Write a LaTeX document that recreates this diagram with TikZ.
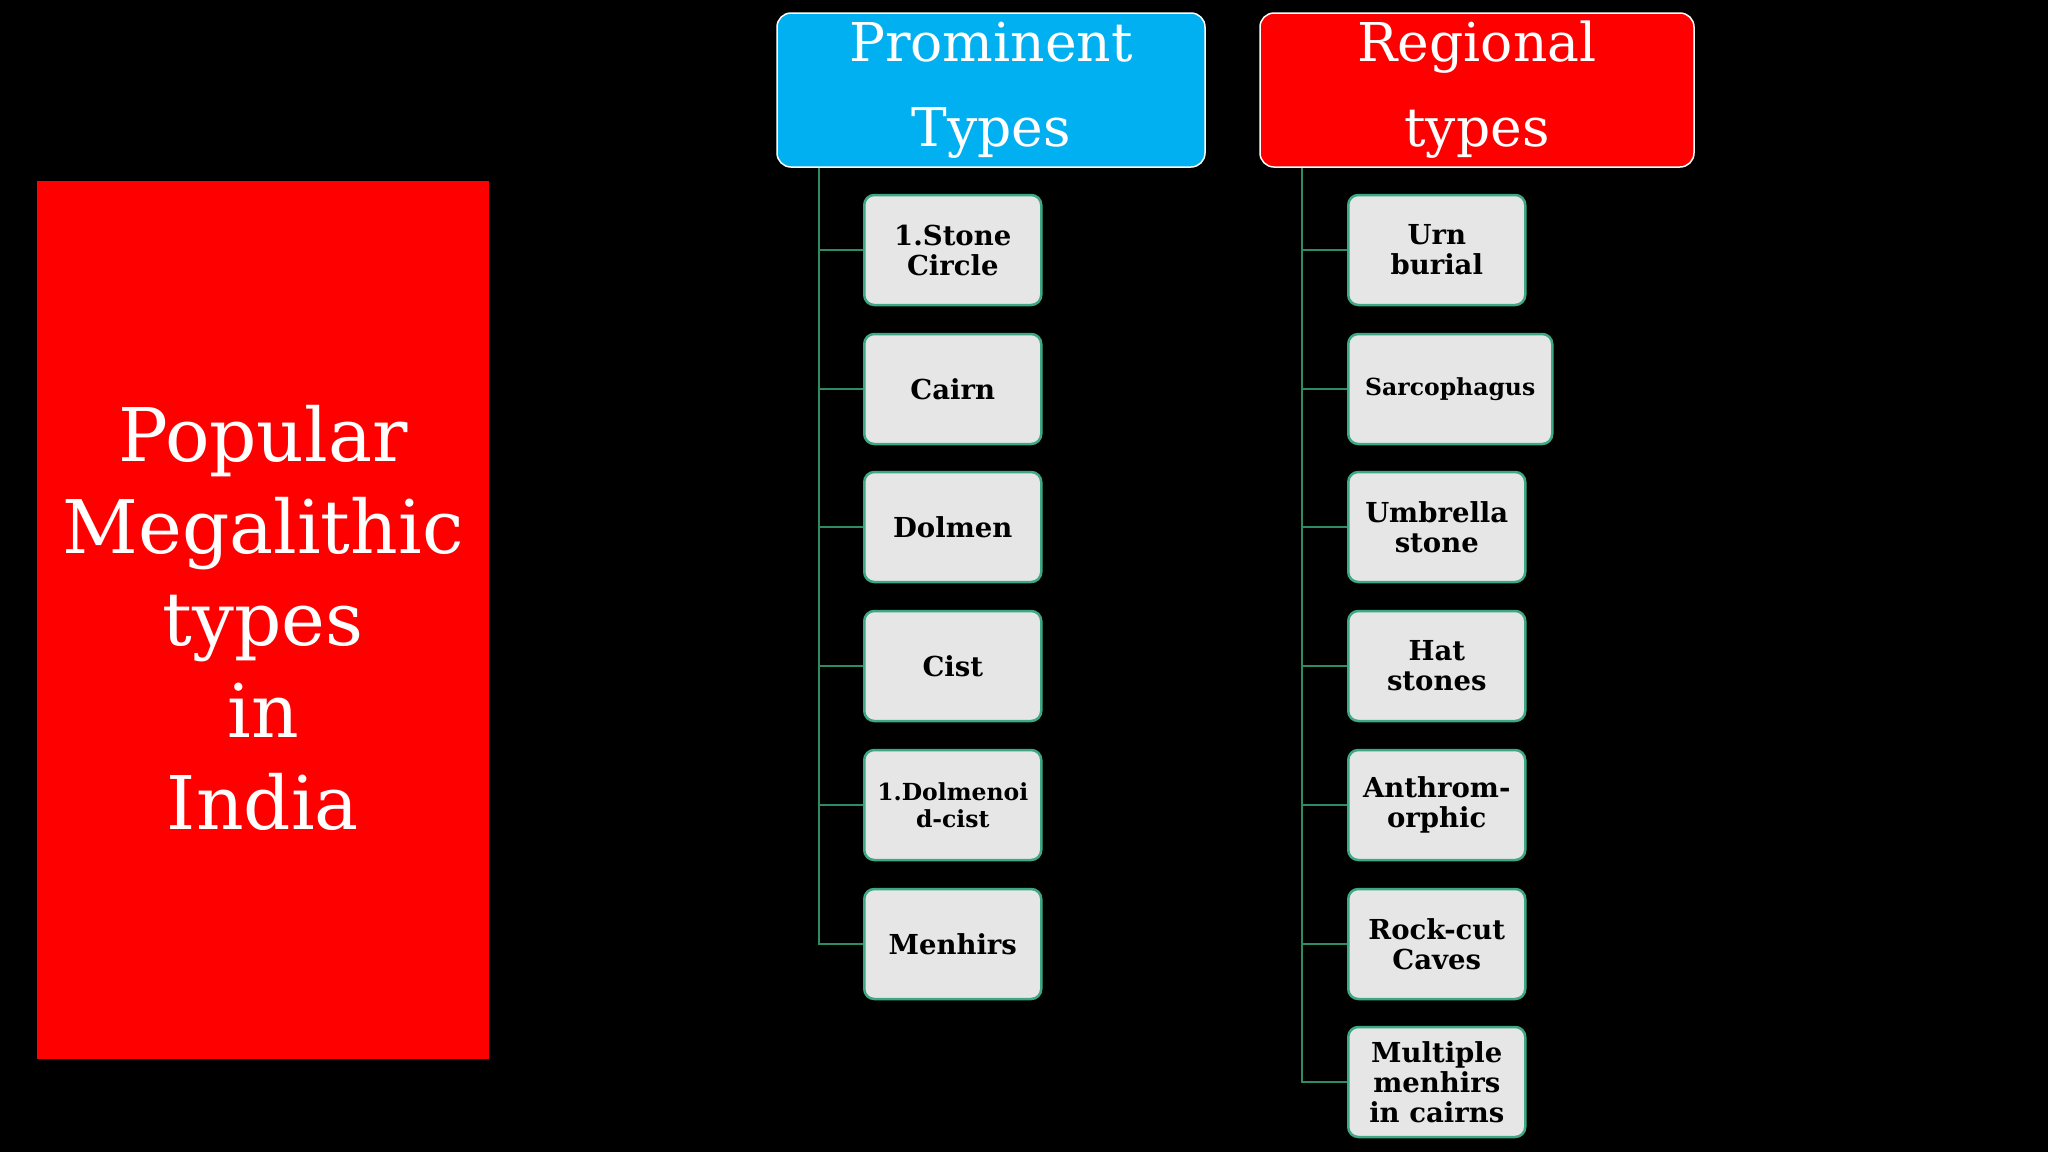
\documentclass[tikz,border=0pt]{standalone}
\usepackage{fontspec}
\setmainfont{DejaVu Serif}
\definecolor{promblue}{HTML}{00B0F0}
\definecolor{boxfill}{HTML}{E6E6E6}
\definecolor{boxedge}{HTML}{3DA883}
\definecolor{linkgreen}{HTML}{2E8B62}
\begin{document}
\begin{tikzpicture}[x=1pt,y=-1pt,
  kid/.style={draw=boxedge, line width=2.5pt, fill=boxfill, rounded corners=10pt,
    minimum width=177pt, minimum height=110pt, inner sep=0pt, align=center,
    font=\fontsize{27.5}{30}\selectfont\bfseries, text=black, anchor=west},
  head/.style={draw=white, line width=1.5pt, rounded corners=14pt, minimum height=154pt,
    inner sep=0pt, align=center, text=white, font=\fontsize{53.5}{85}\selectfont},
  link/.style={draw=linkgreen, line width=2pt}
]
\fill[black] (0,0) rectangle (2048,1152);
\path[use as bounding box] (0,0) rectangle (2048,1152);

\node[fill=red, minimum width=452pt, minimum height=878pt, inner sep=0pt] (side) at (263,620) {};
\node[text=white, align=center, font=\fontsize{74}{92}\selectfont] (sidetext) at (263,618)
  {Popular\\Megalithic\\types\\in\\India};

\node[head, fill=promblue, minimum width=428pt] (prom) at (991,90) {Prominent\\Types};
\node[head, fill=red, minimum width=434pt] (regi) at (1477,90) {Regional\\types};

\node[kid] (p1) at (863,250) {1.Stone\\Circle};
\node[kid] (p2) at (863,389) {Cairn};
\node[kid] (p3) at (863,527) {Dolmen};
\node[kid] (p4) at (863,666) {Cist};
\node[kid, font=\fontsize{23.5}{27}\selectfont\bfseries] (p5) at (863,805) {1.Dolmenoi\\d-cist};
\node[kid] (p6) at (863,944) {Menhirs};

\node[kid] (r1) at (1347,250) {Urn\\burial};
\node[kid, minimum width=204pt, font=\fontsize{23.5}{28}\selectfont\bfseries] (r2) at (1347,389) {Sarcophagus};
\node[kid] (r3) at (1347,527) {Umbrella\\stone};
\node[kid] (r4) at (1347,666) {Hat\\stones};
\node[kid] (r5) at (1347,805) {Anthrom-\\orphic};
\node[kid] (r6) at (1347,944) {Rock-cut\\Caves};
\node[kid] (r7) at (1347,1082) {Multiple\\menhirs\\in cairns};

\foreach \c in {p1,p2,p3,p4,p5,p6}
  \draw[link] ([xshift=43pt]prom.south west) |- (\c.west);
\foreach \c in {r1,r2,r3,r4,r5,r6,r7}
  \draw[link] ([xshift=43pt]regi.south west) |- (\c.west);
\end{tikzpicture}
\end{document}
